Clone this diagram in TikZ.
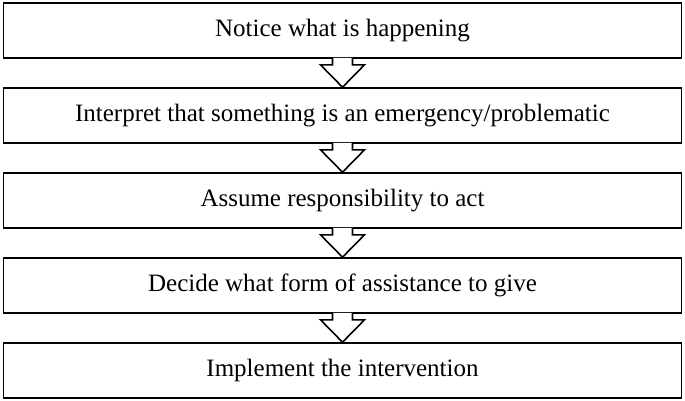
\documentclass[tikz,border=0pt]{standalone}
\usepackage{fontspec}
\setmainfont{Liberation Serif}
\begin{document}
\begin{tikzpicture}[
    x = 1pt,
    y = -1pt,
    stage/.style = {draw=black, line width=1.6pt, fill=white,
              minimum width=678pt, minimum height=55pt,
              inner sep=0pt, font=\fontsize{25}{28}\selectfont},
    ]

\useasboundingbox (0,0) rectangle (685,400);

\node[stage] (stage_1) at (342.5,30.5){Notice what is happening};
\node[stage] (stage_2) at (342.5,115.5){Interpret that something is an emergency/problematic};
\node[stage] (stage_3) at (342.5,200.5){Assume responsibility to act};
\node[stage] (stage_4) at (342.5,285.5){Decide what form of assistance to give};
\node[stage] (stage_5) at (342.5,370.5){Implement the intervention};

\foreach \i/\j in {1/2,2/3,3/4,4/5}{
  \draw [black, line width=1.6pt, fill=white, line join=miter]
    ([xshift=-10pt,yshift=1pt]stage_\i.south) -- ([xshift=-10pt,yshift=-6pt]stage_\i.south)
    -- ([xshift=-22pt,yshift=-6pt]stage_\i.south) -- (stage_\j.north)
    -- ([xshift=22pt,yshift=-6pt]stage_\i.south) -- ([xshift=10pt,yshift=-6pt]stage_\i.south)
    -- ([xshift=10pt,yshift=1pt]stage_\i.south);
}

\end{tikzpicture}
\end{document}
